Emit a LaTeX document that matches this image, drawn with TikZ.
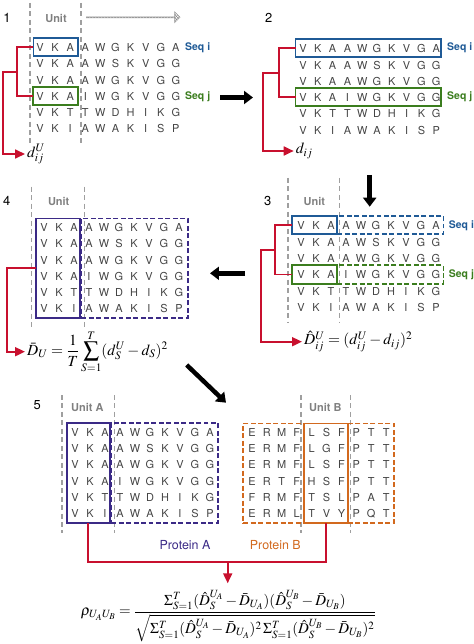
\documentclass[tikz,border=0pt]{standalone}
\usepackage{mathptmx}
\usepackage[no-math]{fontspec}
\newfontfamily\helv{TeX Gyre Heros}
\usetikzlibrary{arrows.meta,shapes.arrows,patterns}
\definecolor{seqblue}{HTML}{1F5A96}
\definecolor{seqgreen}{HTML}{3B7D1E}
\definecolor{protpurple}{HTML}{3B2A86}
\definecolor{protorange}{HTML}{D2691E}
\definecolor{treered}{HTML}{C8102E}
\definecolor{resgray}{HTML}{444444}
\tikzset{>=stealth,
  res/.style={font=\helv\fontsize{11}{11}\selectfont, text=resgray, inner sep=0},
  unitline/.style={gray!75, line width=1.1pt, dash pattern=on 5pt off 3.5pt},
  unitlabel/.style={font=\helv\bfseries\fontsize{11}{11}\selectfont, text=gray},
  panel/.style={font=\helv\fontsize{13}{13}\selectfont},
  seqlabel/.style={font=\helv\bfseries\fontsize{10.5}{10.5}\selectfont, anchor=west, inner sep=0},
  protlabel/.style={font=\helv\fontsize{12.5}{12.5}\selectfont},
  seqbox/.style={draw=#1, line width=1.7pt, inner sep=0, outer sep=0},
  dashbox/.style={seqbox=#1, dash pattern=on 5pt off 2.5pt},
  tree/.style={treered, line width=1.8pt},
  redtip/.style={-{Triangle[length=10pt,width=9pt]}},
  bigarrow/.style={line width=4.5pt, -{Triangle[length=9pt,width=13pt]}},
  formula/.style={anchor=west, inner sep=2pt, font=\fontsize{15.5}{18}\selectfont}
}
\def\protA{{V,K,A,A,W,G,K,V,G,A},{V,K,A,A,W,S,K,V,G,G},{V,K,A,A,W,G,K,V,G,G},
  {V,K,A,I,W,G,K,V,G,G},{V,K,T,T,W,D,H,I,K,G},{V,K,I,A,W,A,K,I,S,P}}
\def\protB{{E,R,M,F,L,S,F,P,T,T},{E,R,M,F,L,G,F,P,T,T},{E,R,M,F,L,S,F,P,T,T},
  {E,R,T,F,H,S,F,P,T,T},{F,R,M,F,T,S,L,P,A,T},{E,R,M,L,T,V,Y,P,Q,T}}
% #1 name, #2 rows, #3 first column, #4 column step, #5 first row
\newcommand{\alignment}[5]{%
  \foreach \row [count=\r] in #2 {
    \foreach \c [count=\k] in \row
      \node[res] (#1-\r-\k) at ({#3+(\k-1)*#4},{#5+(\r-1)*16.3}) {\c};
  }
}

\begin{document}
\begin{tikzpicture}[x=1bp,y=-1bp]
  \useasboundingbox (0,0) rectangle (474,644);

  % panel 1
  \node[panel] (n1) at (7,18) {1};
  \foreach \x in {30,81} \draw[unitline] (\x,3) -- (\x,143);
  \node[unitlabel] (u1) at (56,18) {Unit};
  \node[single arrow, draw=gray!80, fill=gray!45, pattern=crosshatch, pattern color=gray!90!black,
    minimum height=94pt, minimum width=11pt, single arrow head extend=2.5pt,
    inner sep=0, line width=.5pt] (slide) at (133,17.3) {};
  \alignment{a1}{\protA}{40}{15.1}{47.5}
  \node[seqbox=seqblue, minimum width=45, minimum height=18.3] (b1i) at (55.8,46.9) {};
  \node[seqbox=seqgreen, minimum width=45, minimum height=18] (b1j) at (55.5,96) {};
  \node[seqlabel, text=seqblue] (s1i) at (185,47.5) {Seq i};
  \node[seqlabel, text=seqgreen] (s1j) at (185,96.4) {Seq j};
  \node[formula] (d1) at (25,154) {$d_{ij}^{U}$};
  \coordinate (m1) at (16.7,72);
  \draw[tree] (b1i.west) -| (m1) |- (b1j.west);
  \draw[tree,redtip] (m1) -- (3.3,72) |- (d1.west);

  % panel 2
  \node[panel] (n2) at (268.7,18) {2};
  \alignment{a2}{\protA}{303}{14.8}{48.8}
  \node[seqbox=seqblue, minimum width=146, minimum height=18] (b2i) at (368.3,48) {};
  \node[seqbox=seqgreen, minimum width=146, minimum height=18] (b2j) at (368.3,97.2) {};
  \node[seqlabel, text=seqblue] (s2i) at (447,48) {Seq i};
  \node[seqlabel, text=seqgreen] (s2j) at (447,97.2) {Seq j};
  \node[formula] (d2) at (293.7,151) {$d_{ij}$};
  \coordinate (m2) at (278.7,72.7);
  \draw[tree] (b2i.west) -| (m2) |- (b2j.west);
  \draw[tree,redtip] (m2) -- (263,72.7) |- (d2.west);

  % panel 3
  \node[panel] (n3) at (267.7,201) {3};
  \foreach \x in {288,339.3} \draw[unitline] (\x,178) -- (\x,322);
  \node[unitlabel] (u3) at (314.3,201) {Unit};
  \alignment{a3}{\protA}{301}{15}{226}
  \node[dashbox=seqblue, minimum width=106.7, minimum height=18.6] (r3i) at (390.3,225) {};
  \node[dashbox=seqgreen, minimum width=106.7, minimum height=18.6] (r3j) at (390.3,274.5) {};
  \node[seqbox=seqblue, minimum width=45, minimum height=18.6] (b3i) at (314.5,225) {};
  \node[seqbox=seqgreen, minimum width=45, minimum height=18.6] (b3j) at (314.5,274.5) {};
  \node[seqlabel, text=seqblue] (s3i) at (448.7,226) {Seq i};
  \node[seqlabel, text=seqgreen] (s3j) at (448.7,274.5) {Seq j};
  \node[formula] (d3) at (302,341.7) {$\hat{D}_{ij}^{U}=(d_{ij}^{U}-d_{ij})^{2}$};
  \coordinate (m3) at (274.7,250);
  \draw[tree] (b3i.west) -| (m3) |- (b3j.west);
  \draw[tree,redtip] (m3) -- (261,250) |- (d3.west);

  % panel 4
  \node[panel] (n4) at (6.7,201) {4};
  \foreach \x in {31.7,84.3} \draw[unitline] (\x,186.7) -- (\x,328);
  \node[unitlabel] (u4) at (58.7,201) {Unit};
  \alignment{a4}{\protA}{44}{15}{227.5}
  \node[dashbox=protpurple, minimum width=107.3, minimum height=100] (r4) at (134.6,268.3) {};
  \node[seqbox=protpurple, minimum width=44, minimum height=100] (b4) at (58,268.3) {};
  \node[formula] (d4) at (25,351.7)
    {$\displaystyle\bar{D}_{U}=\frac{1}{T}\sum_{S=1}^{T}(d_{S}^{U}-d_{S})^{2}$};
  \draw[tree,redtip] (b4.west) -- (7.3,268.3) |- (d4.west);

  % panel 5
  \node[panel] (n5) at (37.3,405) {5};
  \foreach \x in {62,114.3,301,350.3} \draw[unitline] (\x,395) -- (\x,533);
  \node[unitlabel] (u5a) at (87.3,407.3) {Unit A};
  \node[unitlabel] (u5b) at (325.3,407.3) {Unit B};
  \alignment{a5}{\protA}{75}{15}{432.3}
  \alignment{b5}{\protB}{252}{14.9}{432.3}
  \node[dashbox=protpurple, minimum width=107.3, minimum height=100.6] (r5a) at (164.6,473) {};
  \node[seqbox=protpurple, minimum width=43.3, minimum height=100.6] (b5a) at (88.3,473) {};
  \node[dashbox=protorange, minimum width=151.3, minimum height=100] (r5b) at (318.6,473.3) {};
  \node[seqbox=protorange, minimum width=44.3, minimum height=100] (b5b) at (325.9,473.3) {};
  \node[protlabel, text=protpurple] (pa) at (185,545) {Protein A};
  \node[protlabel, text=protorange] (pb) at (275.3,545) {Protein B};
  \coordinate (join) at (227.7,561.7);
  \draw[tree] (b5a.south) |- (join) -| (b5b.south);
  \draw[tree,redtip] (join) -- ++(0,21.6);
  \node[font=\fontsize{15}{17}\selectfont] (rho) at (228.3,616)
    {$\displaystyle\rho_{U_AU_B}=\frac{\Sigma_{S=1}^{T}(\hat{D}_{S}^{U_A}-\bar{D}_{U_A})(\hat{D}_{S}^{U_B}-\bar{D}_{U_B})}{\sqrt{\Sigma_{S=1}^{T}(\hat{D}_{S}^{U_A}-\bar{D}_{U_A})^{2}\,\Sigma_{S=1}^{T}(\hat{D}_{S}^{U_B}-\bar{D}_{U_B})^{2}}}$};

  % steps between panels
  \coordinate (g1) at (220,97.5);   \coordinate (g2) at (253,97.5);
  \coordinate (g3) at (369.7,175);  \coordinate (g4) at (369.7,206.7);
  \coordinate (g5) at (245,273.3);  \coordinate (g6) at (210,273.3);
  \coordinate (g7) at (186.7,365);  \coordinate (g8) at (226,402.7);
  \draw[bigarrow] (g1) -- (g2);
  \draw[bigarrow] (g3) -- (g4);
  \draw[bigarrow] (g5) -- (g6);
  \draw[bigarrow] (g7) -- (g8);
\end{tikzpicture}
\end{document}
